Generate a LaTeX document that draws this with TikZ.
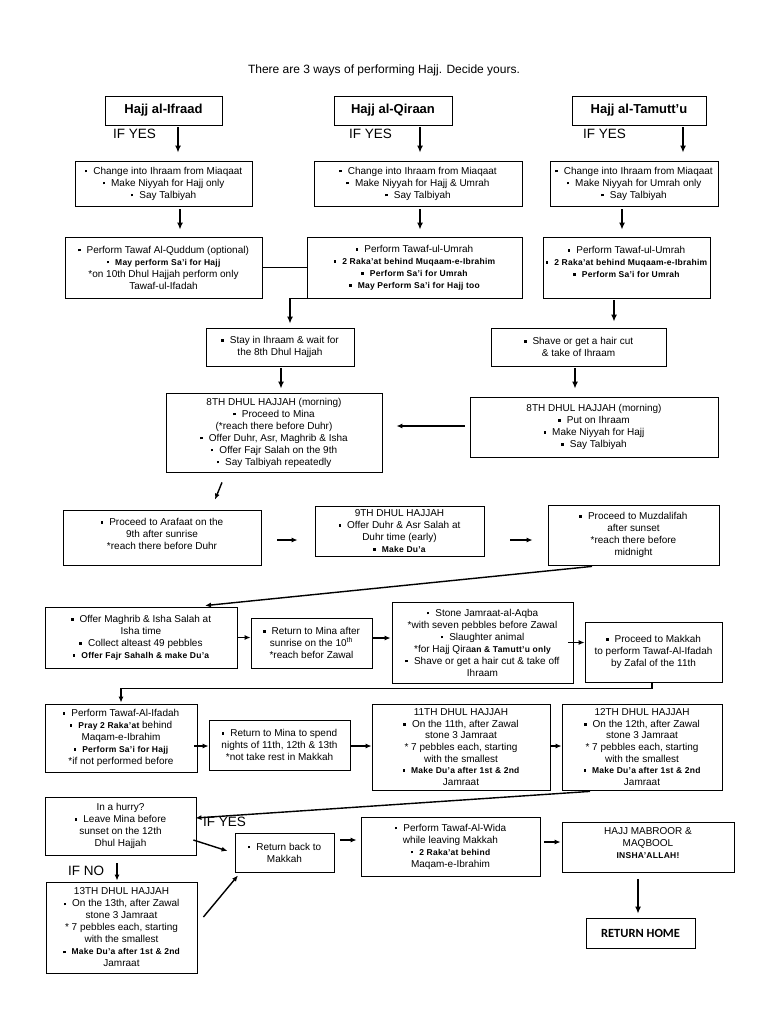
\documentclass[tikz,border=0pt]{standalone}
\usepackage{fontspec}
\setmainfont{Liberation Sans}
\newfontfamily\carl{Carlito}
\usetikzlibrary{arrows.meta}
\newcommand\bu{\raisebox{1.6pt}{\rule{2.6pt}{2.6pt}}\hspace{6pt}}
\newcommand\bs[1]{{\fontsize{8.5}{12}\selectfont\bfseries\addfontfeatures{LetterSpace=3}#1}}
\newcommand\bx[7][]{\node[box,minimum width={#5-#3},minimum height={#6-#4},#1] (#2) at ({(#3+#5)/2},{(#4+#6)/2}) {#7};}
\begin{document}
\begin{tikzpicture}[x=1pt,y=-1pt,
  box/.style={draw,line width=0.8pt,inner sep=0pt,align=center,font=\fontsize{10}{12}\selectfont},
  hdr/.style={font=\fontsize{13}{15}\selectfont\bfseries},
  lbl/.style={anchor=west,inner sep=0pt,font=\fontsize{13.5}{15}\selectfont},
  arr/.style={-{Latex[length=6pt,width=5pt]},line width=1.4pt},
  bigarr/.style={-{Latex[length=7pt,width=6pt]},line width=1.5pt}]
\fill[white] (0,0) rectangle (768,1024);
\useasboundingbox (0,0) rectangle (768,1024);
\node[font=\fontsize{12}{14}\selectfont] (title) at (384,70) {There are 3 ways of performing Hajj. Decide yours.};
% headers
\bx[hdr]{H1}{105}{96}{222}{125}{Hajj al-Ifraad}
\bx[hdr]{H2}{334}{96}{452}{125}{Hajj al-Qiraan}
\bx[hdr]{H3}{572}{96}{706}{125}{Hajj al-Tamutt'u}
\node[lbl] (y1) at (113,134) {IF YES};
\node[lbl] (y2) at (349,134) {IF YES};
\node[lbl] (y3) at (583,134) {IF YES};
% row 2
\bx{A1}{75}{161}{252}{206}{\bu Change into Ihraam from Miaqaat\\ \bu Make Niyyah for Hajj only\\ \bu Say Talbiyah}
\bx{B1}{314}{161}{522}{206}{\bu Change into Ihraam from Miaqaat\\ \bu Make Niyyah for Hajj \& Umrah\\ \bu Say Talbiyah}
\bx{C1}{550}{161}{718}{206}{\bu Change into Ihraam from Miaqaat\\ \bu Make Niyyah for Umrah only\\ \bu Say Talbiyah}
% row 3
\bx{A2}{65}{237}{262}{298}{\bu Perform Tawaf Al-Quddum (optional)\\ \bu \bs{May perform Sa'i for Hajj}\\ *on 10th Dhul Hajjah perform only\\ Tawaf-ul-Ifadah}
\bx{B2}{307}{237}{522}{298}{\bu Perform Tawaf-ul-Umrah\\ \bu \bs{2 Raka'at behind Muqaam-e-Ibrahim}\\ \bu \bs{Perform Sa'i for Umrah}\\ \bu \bs{May Perform Sa'i for Hajj too}}
\bx{C2}{543}{237}{710}{298}{\bu Perform Tawaf-ul-Umrah\\ \bu \bs{2 Raka'at behind Muqaam-e-Ibrahim}\\ \bu \bs{Perform Sa'i for Umrah}\\ ~}
% row 4
\bx{A3}{206}{328}{354}{366}{\bu Stay in Ihraam \& wait for\\ the 8th Dhul Hajjah}
\bx{C3}{491}{328}{666}{366}{\bu Shave or get a hair cut\\ \& take of Ihraam}
% row 5
\bx{A4}{166}{393}{382}{472}{8TH DHUL HAJJAH (morning)\\ \bu Proceed to Mina\\ (*reach there before Duhr)\\ \bu Offer Duhr, Asr, Maghrib \& Isha\\ \bu Offer Fajr Salah on the 9th\\ \bu Say Talbiyah repeatedly}
\bx{C4}{470}{397}{718}{457}{8TH DHUL HAJJAH (morning)\\ \bu Put on Ihraam\\ \bu Make Niyyah for Hajj\\ \bu Say Talbiyah}
% row 6
\bx{D1}{63}{510}{261}{565}{\bu Proceed to Arafaat on the\\ 9th after sunrise\\ *reach there before Duhr\\[-4pt] ~}
\bx{D2}{315}{506}{484}{556}{9TH DHUL HAJJAH\\ \bu Offer Duhr \& Asr Salah at\\ Duhr time (early)\\ \bu \bs{Make Du'a}}
\bx{D3}{548}{505}{719}{565}{\bu Proceed to Muzdalifah\\ after sunset\\ *reach there before\\ midnight}
% row 7
\bx{E1}{45}{607}{237}{668}{\bu Offer Maghrib \& Isha Salah at\\ Isha time\\ \bu Collect alteast 49 pebbles\\ \bu \bs{Offer Fajr Sahalh \& make Du'a}}
\bx{E2}{251}{618}{372}{668}{\bu Return to Mina after\\ sunrise on the 10\textsuperscript{th}\\ *reach befor Zawal}
\bx{E3}{392}{602}{573}{683}{\bu Stone Jamraat-al-Aqba\\ *with seven pebbles before Zawal\\ \bu Slaughter animal\\ *for Hajj Qira\bs{an \& Tamutt'u only}\\ \bu Shave or get a hair cut \& take off\\ Ihraam}
\bx{E4}{585}{622}{722}{682}{\bu Proceed to Makkah\\ to perform Tawaf-Al-Ifadah\\ by Zafal of the 11th}
% row 8
\bx{F1}{45}{704}{197}{772}{\bu Perform Tawaf-Al-Ifadah\\ \bu \bs{Pray 2 Raka'at} behind\\ Maqam-e-Ibrahim\\ \bu \bs{Perform Sa'i for Hajj}\\ *if not performed before}
\bx{F2}{209}{720}{350}{770}{\bu Return to Mina to spend\\ nights of 11th, 12th \& 13th\\ *not take rest in Makkah}
\bx[font=\fontsize{10}{11.6}\selectfont]{F3}{372}{704}{550}{790}{11TH DHUL HAJJAH\\ \bu On the 11th, after Zawal\\ stone 3 Jamraat\\ * 7 pebbles each, starting\\ with the smallest\\ \bu \bs{Make Du'a after 1st \& 2nd}\\ Jamraat}
\bx[font=\fontsize{10}{11.6}\selectfont]{F4}{562}{704}{722}{790}{12TH DHUL HAJJAH\\ \bu On the 12th, after Zawal\\ stone 3 Jamraat\\ * 7 pebbles each, starting\\ with the smallest\\ \bu \bs{Make Du'a after 1st \& 2nd}\\ Jamraat}
% row 9
\bx{G1}{45}{797}{196}{855}{In a hurry?\\ \bu Leave Mina before\\ sunset on the 12th\\ Dhul Hajjah}
\node[lbl] (yes4) at (203,822) {IF YES};
\bx{G2}{235}{833}{334}{872}{\bu Return back to\\ Makkah}
\node[lbl] (no1) at (68,871) {IF NO};
\bx{G3}{46}{882}{197}{973}{13TH DHUL HAJJAH\\ \bu On the 13th, after Zawal\\ stone 3 Jamraat\\ * 7 pebbles each, starting\\ with the smallest\\ \bu \bs{Make Du'a after 1st \& 2nd}\\ Jamraat}
\bx{G4}{361}{817}{540}{876}{\bu Perform Tawaf-Al-Wida\\ while leaving Makkah\\ \bu \bs{2 Raka'at behind}\\ Maqam-e-Ibrahim}
\bx{G5}{562}{822}{734}{872}{HAJJ MABROOR \&\\ MAQBOOL\\ \bs{INSHA'ALLAH!}\\[-4pt] ~}
\bx[font=\carl\fontsize{12.5}{14}\selectfont\bfseries]{R}{586}{918}{695}{948}{RETURN HOME}
% connectors
\draw[bigarr] ([xshift=14.5pt,yshift=-2pt]H1.south) -- ([xshift=14.5pt,yshift=8pt]A1.north);
\draw[bigarr] ([xshift=27pt,yshift=-2pt]H2.south) -- ([xshift=2pt,yshift=8pt]B1.north);
\draw[bigarr] ([xshift=44pt,yshift=-2pt]H3.south) -- ([xshift=49pt,yshift=8pt]C1.north);
\draw[bigarr] ([xshift=16.5pt,yshift=-3pt]A1.south) -- ([xshift=16.5pt,yshift=7pt]A2.north);
\draw[bigarr] ([xshift=2pt,yshift=-3pt]B1.south) -- ([xshift=5.5pt,yshift=7pt]B2.north);
\draw[bigarr] ([xshift=-12pt,yshift=-3pt]C1.south) -- ([xshift=-4.5pt,yshift=7pt]C2.north);
\draw[line width=1.5pt] (A2.east) -- (B2.west);
\draw[bigarr] (B2.south west) -| ([xshift=10pt,yshift=4pt]A3.north);
\draw[bigarr] ([xshift=-12.5pt,yshift=-2pt]C2.south) -- ([xshift=35.5pt,yshift=6pt]C3.north);
\draw[bigarr] ([xshift=1pt,yshift=-2pt]A3.south) -- ([xshift=7pt,yshift=4pt]A4.north);
\draw[bigarr] ([xshift=-3.5pt,yshift=-2pt]C3.south) -- ([xshift=-19pt,yshift=8pt]C4.north);
\draw[arr] ([xshift=-5pt,yshift=1pt]C4.west) -- ([xshift=14pt,yshift=6.5pt]A4.east);
\draw[arr] ([xshift=-52pt,yshift=-10pt]A4.south) -- ([xshift=53pt,yshift=10pt]D1.north);
\draw[arr] ([xshift=16pt,yshift=-2.5pt]D1.east) -- ([xshift=-17pt,yshift=-9pt]D2.west);
\draw[arr] ([xshift=26pt,yshift=-9pt]D2.east) -- ([xshift=-15pt,yshift=-5pt]D3.west);
\draw[arr] ([xshift=-41.5pt,yshift=-1pt]D3.south) -- ([xshift=64pt,yshift=1pt]E1.north);
\draw[arr] (E1.east) -- ([yshift=5.5pt]E2.west);
\draw[arr] ([xshift=1pt,yshift=5pt]E2.east) -- ([xshift=-1pt,yshift=4.5pt]E3.west);
\draw[arr] ([xshift=-5pt]E3.east) -- ([yshift=9.5pt]E4.west);
\draw[arr] ([xshift=-1.5pt]E4.south) -- ++(0,6) -| ([yshift=1pt]F1.north);
\draw[arr] ([xshift=-3pt,yshift=-8pt]F1.east) -- ([yshift=-1pt]F2.west);
\draw[arr] ([yshift=-1pt]F2.east) -- ([yshift=1pt]F3.west);
\draw[arr] ([yshift=1pt]F3.east) -- ([yshift=1pt]F4.west);
\draw[arr] ([xshift=-52pt,yshift=-1pt]F4.south) -- ([xshift=-1pt,yshift=8pt]G1.east);
\draw[arr] ([xshift=-3pt,yshift=-14pt]G1.east) -- ([xshift=-7pt,yshift=1.5pt]G2.west);
\draw[arr] ([xshift=-3.5pt,yshift=-8pt]G1.south) -- ([xshift=-4.5pt,yshift=1pt]G3.north);
\draw[arr] ([xshift=6pt,yshift=10.5pt]G3.east) -- ([xshift=-46.5pt,yshift=-3pt]G2.south);
\draw[arr] ([xshift=6pt,yshift=12.5pt]G2.east) -- ([xshift=-4pt,yshift=6.5pt]G4.west);
\draw[arr] ([xshift=4pt,yshift=4.5pt]G4.east) -- ([xshift=-1pt,yshift=5pt]G5.west);
\draw[bigarr] ([xshift=-10pt,yshift=-7pt]G5.south) -- ([xshift=-2.5pt,yshift=4pt]R.north);
\end{tikzpicture}
\end{document}
